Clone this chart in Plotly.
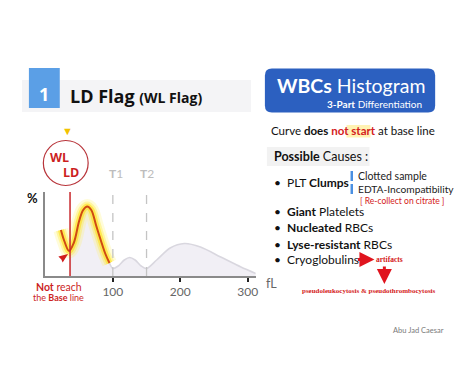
import numpy as np
import plotly.graph_objects as go

W, H = 474, 366
OFF = 8                      # page body margin
FW, FH = W - OFF, H - OFF

# ---------------- data ----------------
ld_x = [23, 28, 35, 42, 50, 56, 62, 68, 75, 82, 89, 95]          # fL
ld_y = [46, 35, 25, 33, 55, 66, 69.5, 66, 51, 36, 22, 13]         # % (relative)
wbc_x = [95, 100, 108, 117, 125, 133, 142, 150, 165, 185, 206, 230, 260, 290, 312]
wbc_y = [13, 7.5, 10, 16, 18.5, 16, 10, 7.5, 16, 28, 32.5, 29, 19, 9, 2.5]
ld_line_x = 36.5     # WL / LD discriminator
t1_x, t2_x = 100, 150
tick_vals = [100, 200, 300]
tick_text = ["100", "200", "300"]
x_max, y_max = 312, 84

def px(x):
    return (x - OFF) / FW

def py(y):
    return 1 - (y - OFF) / FH

fig = go.Figure()

# filled area (from the discriminator line onwards)
fx = [ld_line_x] + [x for x in ld_x if x > ld_line_x] + wbc_x[1:]
fy = [float(np.interp(ld_line_x, ld_x, ld_y))] + [y for x, y in zip(ld_x, ld_y) if x > ld_line_x] + wbc_y[1:]
fig.add_trace(go.Scatter(x=fx, y=fy, mode="lines", line=dict(width=0, shape="spline", smoothing=0.8),
                         fill="tozeroy", fillcolor="rgba(236,234,242,0.75)", hoverinfo="skip"))
# grey outline of WBC curve
fig.add_trace(go.Scatter(x=wbc_x, y=wbc_y, mode="lines",
                         line=dict(color="#d9d7df", width=1.6, shape="spline", smoothing=0.8), hoverinfo="skip"))

# glow behind LD curve
for wdt, col in [(15, "rgba(255,240,80,0.22)"), (10, "rgba(255,232,40,0.32)"), (6, "rgba(255,220,0,0.5)")]:
    fig.add_trace(go.Scatter(x=ld_x, y=ld_y, mode="lines",
                             line=dict(color=col, width=wdt, shape="spline", smoothing=1.0), hoverinfo="skip"))
fig.add_trace(go.Scatter(x=ld_x, y=ld_y, mode="lines",
                         line=dict(color="#cf4a12", width=2, shape="spline", smoothing=1.0), hoverinfo="skip"))

# vertical lines
fig.add_trace(go.Scatter(x=[ld_line_x, ld_line_x], y=[0, y_max], mode="lines",
                         line=dict(color="#c8262a", width=1.5), hoverinfo="skip"))
for tx in (t1_x, t2_x):
    fig.add_trace(go.Scatter(x=[tx, tx], y=[0, y_max], mode="lines",
                             line=dict(color="#c4c4c4", width=1.3, dash="dash"), hoverinfo="skip"))

x0, x1 = 45.6, 45.6 + x_max * 0.677
fig.update_layout(
    width=FW, height=FH, margin=dict(l=0, r=0, t=0, b=0),
    paper_bgcolor="white", plot_bgcolor="white", showlegend=False,
    font=dict(family="Lato, sans-serif", color="#111"),
    xaxis=dict(domain=[px(x0), px(x1)], range=[0, x_max], showgrid=False, zeroline=False,
               showline=True, linecolor="#8a8a8a", linewidth=1.5,
               tickvals=tick_vals, ticktext=tick_text, ticks="outside", ticklen=4, tickwidth=2,
               tickcolor="#222", tickfont=dict(size=12, color="#666", family="Lato, sans-serif")),
    yaxis=dict(domain=[py(276), py(276 - y_max)], range=[0, y_max], showgrid=False, zeroline=False,
               showline=True, linecolor="#8a8a8a", linewidth=1.5, showticklabels=False, ticks=""),
)

shapes = []
def rect(xa, ya, xb, yb, color, **kw):
    shapes.append(dict(type="rect", xref="paper", yref="paper", x0=px(xa), x1=px(xb), y0=py(yb), y1=py(ya),
                       fillcolor=color, line=dict(width=0), layer="below", **kw))

def poly(pts, color):
    d = "M " + " L ".join(f"{px(a)} {py(b)}" for a, b in pts) + " Z"
    shapes.append(dict(type="path", xref="paper", yref="paper", path=d, fillcolor=color,
                       line=dict(width=0), layer="above"))

rect(22, 80, 252, 112, "#f4f4f6")
rect(29, 68, 60, 108, "#5b9fe6")
# right header box (rounded via path)
bx0, by0, bx1, by1, r = 266, 68.5, 437, 112.5, 7
path = (f"M {px(bx0+r)} {py(by0)} L {px(bx1-r)} {py(by0)} Q {px(bx1)} {py(by0)} {px(bx1)} {py(by0+r)} "
        f"L {px(bx1)} {py(by1-r)} Q {px(bx1)} {py(by1)} {px(bx1-r)} {py(by1)} "
        f"L {px(bx0+r)} {py(by1)} Q {px(bx0)} {py(by1)} {px(bx0)} {py(by1-r)} "
        f"L {px(bx0)} {py(by0+r)} Q {px(bx0)} {py(by0)} {px(bx0+r)} {py(by0)} Z")
shapes.append(dict(type="path", xref="paper", yref="paper", path=path, fillcolor="#2c60c0",
                   line=dict(width=0), layer="below"))
rect(348, 125, 372, 137.5, "#fff2b3")
rect(268, 147, 371, 166, "#f2f2f2")
rect(352, 171, 354.5, 181, "#4a90e2")
rect(352, 184, 354.5, 194, "#4a90e2")
# circle
cx, cy, cr = 66, 163, 22.5
shapes.append(dict(type="circle", xref="paper", yref="paper", x0=px(cx - cr), x1=px(cx + cr),
                   y0=py(cy + cr), y1=py(cy - cr), line=dict(color="#b8343a", width=1.2)))
# red arrowhead pointing at the trough
poly([(68.3, 254), (62.9, 262.6), (61.6, 259.6), (58.6, 256.4)], "#d01c1c")
fig.update_layout(shapes=shapes)

ann = []
def txt(x, y, t, size, color="#111", xanchor="left", family="Lato, sans-serif"):
    ann.append(dict(x=px(x), y=py(y), xref="paper", yref="paper", text=t, showarrow=False,
                    xanchor=xanchor, yanchor="middle", font=dict(size=size, color=color, family=family)))

txt(44.5, 94, "<b>1</b>", 18, "white", "center", "Open Sans, sans-serif")
txt(68, 96.5, "<b>LD Flag</b> <b><span style='font-size:14px'>(WL Flag)</span></b>", 18, "#111", "left", "Open Sans, sans-serif")
txt(68, 131, "▼", 11, "#f2c200", "center")
txt(60, 157.5, "<b>WL</b>", 12.5, "#cc1f1f", "center", "Open Sans, sans-serif")
txt(71.5, 172.5, "<b>LD</b>", 12.5, "#cc1f1f", "center", "Open Sans, sans-serif")
txt(116.5, 173.5, "<b>T</b>1", 12, "#bdbdbd", "center")
txt(148, 173.5, "<b>T</b>2", 12, "#bdbdbd", "center")
txt(33, 197.5, "<b>%</b>", 13, "#111", "center")
txt(59, 286.5, "<b>Not</b> reach", 10.5, "#cc1f1f", "center")
txt(59, 297, "the <b>Base</b> line", 9, "#cc1f1f", "center")
txt(272.5, 283.5, "fL", 12.5, "#666", "center")

txt(352, 85, "<b>WBCs</b> Histogram", 19.5, "white", "center")
txt(426, 104, "<b>3-Part</b> Differentiation", 10, "white", "right")
txt(270, 131, "Curve <b>does</b> <span style='color:#d42020'><b>not start</b></span> at base line", 11.5)
txt(273, 156.5, "<b>Possible</b> Causes :", 12.5)
bullets = [(182, "PLT <b>Clumps</b>"), (211, "<b>Giant</b> Platelets"), (227.5, "<b>Nucleated</b> RBCs"),
           (244, "<b>Lyse-resistant</b> RBCs"), (259.5, "Cryoglobulins")]
for yy, t in bullets:
    txt(279, yy, "•", 12, "#111", "center")
    txt(286.5, yy, t, 12)
txt(357.5, 176, "Clotted sample", 10.5, "#222")
txt(357.5, 189, "EDTA-Incompatibility", 10.2, "#222")
txt(447.5, 201, "[ Re-collect on citrate ]", 8.5, "#d42020", "right")
txt(376, 259, "<b>artifacts</b>", 7.5, "#d42020", "left", "Liberation Serif, serif")
txt(371, 291, "<b>pseudoleukocytosis &amp; pseudothrombocytosis</b>", 7, "#d42020", "center", "Liberation Serif, serif")
txt(447.5, 330, "Abu Jad Caesar", 7.5, "#7a7a7a", "right")

# arrows
ann.append(dict(x=px(376), y=py(259.5), ax=-18, ay=0, xref="paper", yref="paper",
                axref="pixel", ayref="pixel", text="", showarrow=True, arrowhead=2, arrowsize=1,
                arrowwidth=3, arrowcolor="#e0141e"))
ann.append(dict(x=px(386), y=py(284), ax=0, ay=-19, xref="paper", yref="paper",
                axref="pixel", ayref="pixel", text="", showarrow=True, arrowhead=2, arrowsize=1,
                arrowwidth=3, arrowcolor="#e0141e"))
fig.update_layout(annotations=ann)

fig.write_html("out.html")
